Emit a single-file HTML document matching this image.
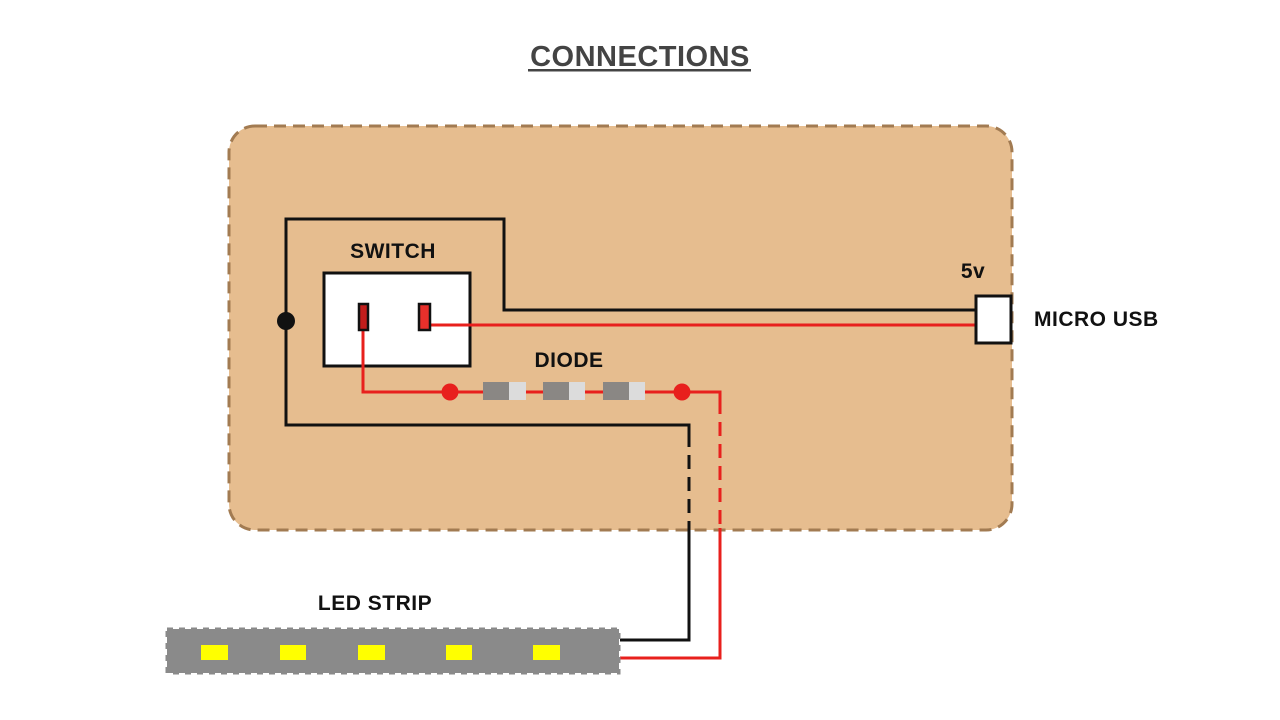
<!DOCTYPE html>
<html><head><meta charset="utf-8"><style>
html,body{margin:0;padding:0;background:#fff;width:1280px;height:720px;overflow:hidden}
text{font-family:"Liberation Sans",sans-serif;font-weight:bold;fill:#111;letter-spacing:0.5px}
</style></head><body>
<svg width="1280" height="720" viewBox="0 0 1280 720" xmlns="http://www.w3.org/2000/svg">
<text x="640" y="66" text-anchor="middle" font-size="29" style="fill:#444">CONNECTIONS</text>
<rect x="528" y="69" width="223" height="2.5" fill="#444"/>
<rect x="229" y="126" width="783" height="404" rx="26" fill="#e6bd8f" stroke="#a27b52" stroke-width="3" stroke-dasharray="12 7"/>
<polyline points="976,310 504,310 504,219 286,219 286,425 689,425 689,433" fill="none" stroke="#111" stroke-width="3"/>
<line x1="689" y1="433" x2="689" y2="530" stroke="#111" stroke-width="3" stroke-dasharray="14 8"/>
<polyline points="689,528 689,640 620,640" fill="none" stroke="#111" stroke-width="3"/>
<circle cx="286" cy="321" r="9" fill="#111"/>
<rect x="324" y="273" width="146" height="93" fill="#fff" stroke="#111" stroke-width="3"/>
<text x="393" y="258" text-anchor="middle" font-size="21">SWITCH</text>
<line x1="430" y1="325" x2="976" y2="325" stroke="#e8201d" stroke-width="3"/>
<polyline points="363,330 363,392 720,392 720,400" fill="none" stroke="#e8201d" stroke-width="3"/>
<line x1="720" y1="400" x2="720" y2="530" stroke="#e8201d" stroke-width="3" stroke-dasharray="14 8"/>
<polyline points="720,528 720,658 620,658" fill="none" stroke="#e8201d" stroke-width="3"/>
<rect x="359" y="304" width="9" height="26" fill="#c21e1c" stroke="#111" stroke-width="2.5"/>
<rect x="419" y="304" width="11" height="26" fill="#e8302b" stroke="#111" stroke-width="2.5"/>
<circle cx="450" cy="392" r="8.5" fill="#e8201d"/>
<circle cx="682" cy="392" r="8.5" fill="#e8201d"/>
<g>
<rect x="483" y="382" width="26" height="18" fill="#8a8784"/><rect x="509" y="382" width="17" height="18" fill="#dcdcdc"/>
<rect x="543" y="382" width="26" height="18" fill="#8a8784"/><rect x="569" y="382" width="16" height="18" fill="#dcdcdc"/>
<rect x="603" y="382" width="26" height="18" fill="#8a8784"/><rect x="629" y="382" width="16" height="18" fill="#dcdcdc"/>
</g>
<text x="569" y="367" text-anchor="middle" font-size="21">DIODE</text>
<rect x="976" y="296" width="35" height="47" fill="#fff" stroke="#111" stroke-width="3"/>
<text x="973" y="278" text-anchor="middle" font-size="21">5v</text>
<text x="1034" y="326" font-size="21">MICRO USB</text>
<text x="375" y="610" text-anchor="middle" font-size="21">LED STRIP</text>
<rect x="167" y="629" width="452" height="44" fill="#8a8a8a" stroke="#8a8a8a" stroke-width="3" stroke-dasharray="6 6"/>
<rect x="170" y="632" width="446" height="38" fill="#8a8a8a"/>
<g fill="#ffff00">
<rect x="201" y="645" width="27" height="15"/><rect x="280" y="645" width="26" height="15"/>
<rect x="358" y="645" width="27" height="15"/><rect x="446" y="645" width="26" height="15"/>
<rect x="533" y="645" width="27" height="15"/>
</g>
</svg>
</body></html>
